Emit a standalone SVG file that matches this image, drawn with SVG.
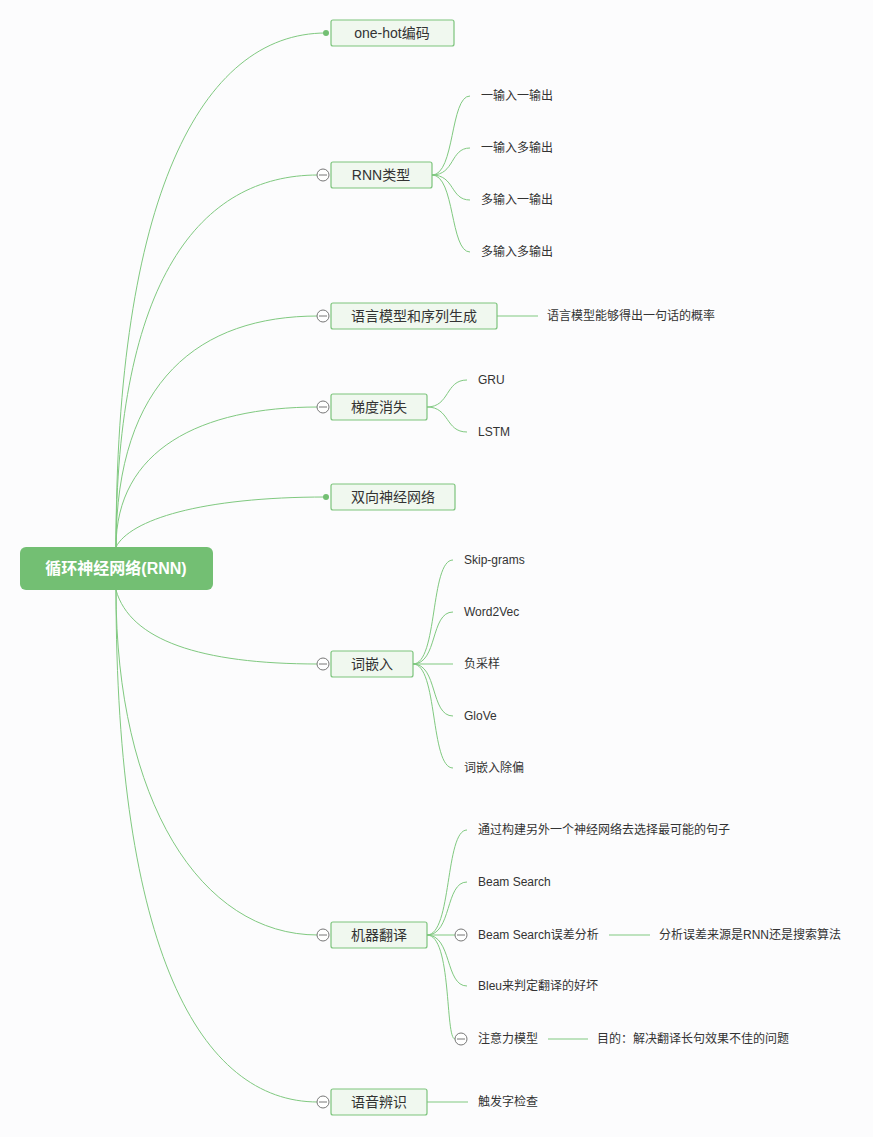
<svg xmlns="http://www.w3.org/2000/svg" width="873" height="1137" viewBox="0 0 873 1137">
<style>
.c{fill:none;stroke:#80c980;stroke-width:1}
.n{fill:#f0f8ef;stroke:#7cc47c;stroke-width:1.2}
.t1{font-family:"Liberation Sans","Noto Sans CJK SC",sans-serif;font-size:14px;fill:#333;dominant-baseline:central}
.t2{font-family:"Liberation Sans","Noto Sans CJK SC",sans-serif;font-size:12px;fill:#333;dominant-baseline:central}
.m{fill:#fff;stroke:#777;stroke-width:1}
</style>
<rect width="873" height="1137" fill="#fcfcfd"/>
<g id="connectors">
<path class="c" d="M116,547 C116,200 200,33 326,33"/>
<path class="c" d="M116,547 C116,280 200,175 318,175"/>
<path class="c" d="M116,547 C116,380 200,316 318,316"/>
<path class="c" d="M116,547 C116,450 200,407 318,407"/>
<path class="c" d="M116,547 C130,520 200,497 326,497"/>
<path class="c" d="M116,590 C130,640 200,664 318,664"/>
<path class="c" d="M116,590 C116,800 200,935 318,935"/>
<path class="c" d="M116,590 C116,950 200,1102 318,1102"/>
<path class="c" d="M432,175 C455,175 450,96 470,96"/>
<path class="c" d="M432,175 C455,175 450,148 470,148"/>
<path class="c" d="M432,175 C455,175 450,200 470,200"/>
<path class="c" d="M432,175 C455,175 450,252 470,252"/>
<path class="c" d="M497,316 L538,316"/>
<path class="c" d="M427,407 C450,407 445,380 467,380"/>
<path class="c" d="M427,407 C450,407 445,432 467,432"/>
<path class="c" d="M413,664 C438,664 430,560 453,560"/>
<path class="c" d="M413,664 C438,664 430,612 453,612"/>
<path class="c" d="M413,664 L453,664"/>
<path class="c" d="M413,664 C438,664 430,716 453,716"/>
<path class="c" d="M413,664 C438,664 430,768 453,768"/>
<path class="c" d="M427,935 C452,935 445,830 467,830"/>
<path class="c" d="M427,935 C452,935 445,882 467,882"/>
<path class="c" d="M427,935 L455,935"/>
<path class="c" d="M427,935 C452,935 445,986 467,986"/>
<path class="c" d="M427,935 C452,935 445,1039 455,1039"/>
<path class="c" d="M609,935 L650,935"/>
<path class="c" d="M548,1039 L588,1039"/>
<path class="c" d="M427,1102 L468,1102"/>
</g>
<g id="root"><rect x="20" y="547" width="193" height="43" rx="6" fill="#73bf73"/><text x="116" y="568.5" text-anchor="middle" font-family="Liberation Sans,Noto Sans CJK SC,sans-serif" font-size="16" font-weight="bold" fill="#fff" dominant-baseline="central">循环神经网络(RNN)</text></g>
<g id="n1"><circle cx="326" cy="33" r="3" fill="#73bf73"/><rect class="n" x="331" y="20" width="123" height="26" rx="2"/><text class="t1" x="392" y="33" text-anchor="middle">one-hot编码</text></g>
<g id="n2"><circle class="m" cx="323" cy="175" r="6"/><path d="M319,175h8" stroke="#777"/><rect class="n" x="331" y="162" width="101" height="26" rx="2"/><text class="t1" x="381" y="175" text-anchor="middle">RNN类型</text></g>
<g id="n3"><circle class="m" cx="323" cy="316" r="6"/><path d="M319,316h8" stroke="#777"/><rect class="n" x="331" y="303" width="166" height="26" rx="2"/><text class="t1" x="414" y="316" text-anchor="middle">语言模型和序列生成</text></g>
<g id="n4"><circle class="m" cx="323" cy="407" r="6"/><path d="M319,407h8" stroke="#777"/><rect class="n" x="331" y="394" width="96" height="26" rx="2"/><text class="t1" x="379" y="407" text-anchor="middle">梯度消失</text></g>
<g id="n5"><circle cx="326" cy="497" r="3" fill="#73bf73"/><rect class="n" x="331" y="484" width="124" height="26" rx="2"/><text class="t1" x="393" y="497" text-anchor="middle">双向神经网络</text></g>
<g id="n6"><circle class="m" cx="323" cy="664" r="6"/><path d="M319,664h8" stroke="#777"/><rect class="n" x="331" y="651" width="82" height="26" rx="2"/><text class="t1" x="372" y="664" text-anchor="middle">词嵌入</text></g>
<g id="n7"><circle class="m" cx="323" cy="935" r="6"/><path d="M319,935h8" stroke="#777"/><rect class="n" x="331" y="922" width="96" height="26" rx="2"/><text class="t1" x="379" y="935" text-anchor="middle">机器翻译</text></g>
<g id="n8"><circle class="m" cx="323" cy="1102" r="6"/><path d="M319,1102h8" stroke="#777"/><rect class="n" x="331" y="1089" width="96" height="26" rx="2"/><text class="t1" x="379" y="1102" text-anchor="middle">语音辨识</text></g>
<g id="leaves">
<text class="t2" x="481" y="96">一输入一输出</text>
<text class="t2" x="481" y="148">一输入多输出</text>
<text class="t2" x="481" y="200">多输入一输出</text>
<text class="t2" x="481" y="252">多输入多输出</text>
<text class="t2" x="547" y="316">语言模型能够得出一句话的概率</text>
<text class="t2" x="478" y="380">GRU</text>
<text class="t2" x="478" y="432">LSTM</text>
<text class="t2" x="464" y="560">Skip-grams</text>
<text class="t2" x="464" y="612">Word2Vec</text>
<text class="t2" x="464" y="664">负采样</text>
<text class="t2" x="464" y="716">GloVe</text>
<text class="t2" x="464" y="768">词嵌入除偏</text>
<text class="t2" x="478" y="830">通过构建另外一个神经网络去选择最可能的句子</text>
<text class="t2" x="478" y="882">Beam Search</text>
<g><circle class="m" cx="461" cy="935" r="6"/><path d="M457,935h8" stroke="#777"/><text class="t2" x="478" y="935">Beam Search误差分析</text></g>
<text class="t2" x="659" y="935">分析误差来源是RNN还是搜索算法</text>
<text class="t2" x="478" y="986">Bleu来判定翻译的好坏</text>
<g><circle class="m" cx="461" cy="1039" r="6"/><path d="M457,1039h8" stroke="#777"/><text class="t2" x="478" y="1039">注意力模型</text></g>
<text class="t2" x="597" y="1039">目的：解决翻译长句效果不佳的问题</text>
<text class="t2" x="478" y="1102">触发字检查</text>
</g>
</svg>
